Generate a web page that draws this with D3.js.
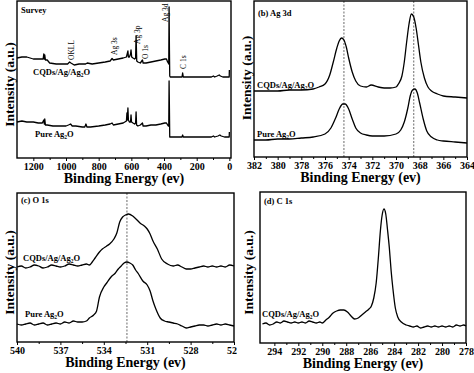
<!DOCTYPE html>
<html><head><meta charset="utf-8">
<script src="https://cdn.jsdelivr.net/npm/d3@7"></script>
<style>
body{margin:0;background:#fff}
svg{display:block}
text{font-family:"Liberation Serif","Times New Roman",serif;fill:#000}
</style>
</head><body>
<svg id="chart" width="474" height="373"></svg>
<script>
// ---------------- DATA (binding energy eV, intensity a.u.) ----------------
const surveyCqds = [[1300,100],[1270,101],[1240,101],[1220,100],[1200,99],[1170,99],[1150,99],[1140,99],[1136,104],[1133,99],[1130,103],[1126,98],[1115,98],[1100,95],[1060,94],[1020,94],[990,94],[978,96],[970,95],[950,93],[920,94],[880,94],[870,95],[840,94],[800,95],[760,96],[730,97],[718,99.5],[710,98],[680,99],[650,100],[630,101],[624,105],[621,107],[618,101],[612,101],[605,104],[602,108],[598,101],[590,100],[580,99],[574,100],[571,122],[567,97],[560,96],[545,95],[532,98],[528,95],[510,95],[480,96],[450,97],[420,98],[395,99],[385,99],[378,96],[374,95],[371,94],[369,151],[367,110],[365,82],[362,81],[340,81],[310,81],[290,81],[286,85],[282,81],[250,81],[200,81],[150,81],[110,81],[98,82],[90,81],[75,82],[62,83],[55,82],[40,81],[20,81],[8,81],[1,81],[0,88]];
const surveyPure = [[1300,36],[1270,37],[1240,36],[1200,36],[1170,35],[1145,35],[1136,38],[1133,34],[1130,39],[1126,33],[1115,33],[1080,32],[1040,32],[1000,32],[985,33],[972,34],[962,32],[940,32],[900,31],[885,31],[878,34],[872,31],[850,31],[800,32],[760,33],[730,34],[718,35],[710,33],[680,34],[650,35],[640,36],[630,37],[627,45],[625,38],[621,50],[618,38],[612,36],[605,36],[602,43],[599,36],[590,35],[580,34],[574,35],[571,46],[568,33],[560,32],[545,33],[532,35],[528,32],[510,32],[480,33],[450,33],[420,34],[395,35],[385,35],[378,33],[374,32],[371,32],[369,77],[367,50],[365,21],[362,21],[320,21],[290,21],[286,23],[282,21],[250,21],[200,21],[150,21],[110,21],[98,22],[90,21],[70,22],[58,23],[50,22],[30,21],[8,21],[1,21],[0,26]];
const surveyPeakLabels = [["OKLL",968,98],["Ag 3s",706,103],["Ag 3p",562,114],["O 1s",516,99],["Ag 3d",392,136],["C 1s",278,89]];

const ag3dCqds = [[382,66],[381,66],[380,66],[379,67],[378,67],[377,68],[376.5,70],[376,73],[375.6,82],[375.3,95],[375.0,109],[374.8,116],[374.6,119],[374.4,117],[374.2,110],[374.0,99],[373.7,85],[373.4,76],[373,71],[372.5,70],[372.1,72],[371.5,70],[371,69],[370.5,69],[370,70],[369.8,73],[369.5,81],[369.3,95],[369.1,115],[368.9,133],[368.7,143],[368.5,140],[368.3,129],[368.1,112],[367.9,95],[367.6,79],[367.3,70],[367,66],[366.5,63],[366,61],[365,60],[364,59]];
const ag3dPure = [[382,17],[381,17],[380,18],[379,18],[378,19],[377,20],[376,23],[375.5,29],[375.1,39],[374.8,48],[374.5,53],[374.3,53],[374.0,48],[373.7,38],[373.4,29],[373,24],[372.5,22],[372,21],[371,21],[370,23],[369.6,27],[369.3,35],[369.0,49],[368.8,61],[368.6,67],[368.4,68],[368.2,64],[368.0,54],[367.7,38],[367.4,26],[367,20],[366.5,17],[366,16],[365,15],[364,14]];
const ag3dRefLines = [374.4, 368.5];

const o1sCqds = [[540,75],[539.7,76],[539.4,74],[539.1,75],[538.8,77],[538.5,76],[538.2,74],[537.9,75],[537.6,77],[537.3,76],[537,75],[536.7,76],[536.4,78],[536.1,77],[535.8,76],[535.5,77],[535.2,78],[535.0,77],[534.8,80],[534.6,84],[534.3,90],[534.1,93],[533.8,96],[533.6,98],[533.3,103],[533.1,109],[532.9,120],[532.7,125],[532.5,127],[532.3,128],[532.0,126],[531.7,122],[531.5,119],[531.2,116],[531.0,113],[530.8,108],[530.6,101],[530.3,93],[530.0,83],[529.6,78],[529.2,76],[528.9,77],[528.6,75],[528.3,73],[528,73],[527.7,74],[527.4,75],[527.1,76],[526.8,75],[526.5,76],[526.2,75],[525.9,76],[525.6,75],[525.3,77],[525,76]];
const o1sPure = [[540,18],[539.7,17],[539.4,18],[539.1,19],[538.8,17],[538.5,18],[538.2,19],[537.9,17],[537.6,18],[537.3,19],[537,18],[536.7,20],[536.4,19],[536.1,21],[535.8,20],[535.5,20],[535.2,21],[535.0,24],[534.7,27],[534.5,31],[534.3,45],[534.0,55],[533.8,59],[533.5,65],[533.2,69],[533.0,73],[532.8,76],[532.6,79],[532.4,80],[532.2,79],[532.0,77],[531.8,72],[531.6,68],[531.3,61],[531.0,57],[530.8,51],[530.6,41],[530.4,33],[530.1,24],[529.8,21],[529.5,20],[529.2,19],[528.9,18],[528.6,16],[528.3,14],[528,15],[527.7,16],[527.4,17],[527.1,17],[526.8,16],[526.5,17],[526.2,18],[525.9,17],[525.6,18],[525.3,17],[525,16]];
const o1sRefLine = [532.4];

const c1sCqds = [[295,19],[294.7,20],[294.4,18],[294.1,19],[293.8,21],[293.5,20],[293.2,22],[292.9,21],[292.6,20],[292.3,21],[292,20],[291.7,21],[291.4,20],[291.1,22],[290.8,21],[290.5,20],[290.2,21],[290,20],[289.7,23],[289.4,26],[289.1,30],[288.8,32],[288.5,33],[288.2,33],[287.9,31],[287.6,27],[287.3,24],[287.0,25],[286.7,28],[286.4,31],[286.1,34],[285.9,37],[285.7,45],[285.5,60],[285.3,88],[285.15,112],[285.0,128],[284.85,134],[284.7,129],[284.55,113],[284.4,95],[284.25,72],[284.1,54],[283.9,35],[283.7,26],[283.4,21],[283,18],[282.7,17],[282.4,16],[282.1,17],[281.8,15],[281.5,16],[281.2,17],[280.9,16],[280.6,17],[280.3,16],[280,17],[279.7,16],[279.4,17],[279.1,16],[278.8,18],[278.5,17],[278.2,18],[278,17]];

const surveyTicks = [1200,1000,800,600,400,200,0];
const ag3dTicks = [382,380,378,376,374,372,370,368,366,364];
const o1sTicks = [540,537,534,531,528,525];
const c1sTicks = [294,292,290,288,286,284,282,280,278];

// ---------------- DRAWING ----------------
const svg = d3.select("#chart");
const FONT_TICK = 10, FONT_TITLE = 14;

function panel(cfg){
  const g = svg.append("g");
  if (cfg.clip){
    const id = "clip" + cfg.name;
    svg.append("clipPath").attr("id", id).append("rect")
      .attr("x", cfg.clip[0]).attr("y", cfg.clip[1]).attr("width", cfg.clip[2]).attr("height", cfg.clip[3]);
    g.attr("clip-path", `url(#${id})`);
  }
  const x = d3.scaleLinear().domain(cfg.xDomain).range([cfg.left, cfg.right]);
  const y = d3.scaleLinear().domain([0, cfg.bottom - cfg.top]).range([cfg.bottom, cfg.top]);

  (cfg.refLines || []).forEach(e => {
    g.append("line").attr("x1", x(e)).attr("x2", x(e)).attr("y1", cfg.top).attr("y2", cfg.bottom)
      .attr("stroke", "#444").attr("stroke-width", 0.8).attr("stroke-dasharray", "2,1.5");
  });

  const line = d3.line().x(d => x(d[0])).y(d => y(d[1])).curve(cfg.curve || d3.curveLinear);
  cfg.series.forEach(s => {
    g.append("path").datum(s).attr("d", line).attr("fill", "none")
      .attr("stroke", "#000").attr("stroke-width", 1.3).attr("stroke-linejoin", "round");
  });

  g.append("rect").attr("x", cfg.left).attr("y", cfg.top)
    .attr("width", cfg.right - cfg.left).attr("height", cfg.bottom - cfg.top)
    .attr("fill", "none").attr("stroke", "#000").attr("stroke-width", 1.4);

  const minor = [];
  for (let i = 0; i < cfg.ticks.length - 1; i++) minor.push((cfg.ticks[i] + cfg.ticks[i+1]) / 2);
  const am = g.append("g").attr("transform", `translate(0,${cfg.bottom})`)
    .call(d3.axisBottom(x).tickValues(minor).tickSize(2).tickFormat(""));
  am.select(".domain").remove();
  am.selectAll("line").attr("stroke-width", 1);

  const ax = g.append("g").attr("transform", `translate(0,${cfg.bottom})`)
    .call(d3.axisBottom(x).tickValues(cfg.ticks).tickSize(3).tickPadding(2).tickFormat(d3.format("d")));
  ax.select(".domain").remove();
  ax.selectAll("line").attr("stroke-width", 1);
  ax.selectAll("text").attr("font-size", FONT_TICK).attr("font-weight", "bold")
    .attr("font-family", '"Liberation Serif", serif').attr("fill", "#000");

  g.append("text").attr("x", (cfg.left + cfg.right) / 2 + (cfg.xtOff || 0)).attr("y", cfg.bottom + 25)
    .attr("text-anchor", "middle").attr("font-size", FONT_TITLE).attr("font-weight", "bold")
    .text("Binding Energy (ev)");
  g.append("text").attr("transform", `translate(${cfg.left - cfg.ytX},${(cfg.top + cfg.bottom) / 2 + (cfg.ytOff || 0)}) rotate(-90)`)
    .attr("text-anchor", "middle").attr("font-size", 13.5).attr("font-weight", "bold")
    .text("Intensity (a.u.)");

  g.append("text").attr("x", cfg.left + 4).attr("y", cfg.top + cfg.titleY)
    .attr("font-size", 8.5).attr("font-weight", "bold").text(cfg.title);

  (cfg.labels || []).forEach(l => {
    const t = g.append("text").attr("x", l[1]).attr("y", l[2])
      .attr("font-size", 8.5).attr("font-weight", "bold");
    t.append("tspan").text(l[0] === "cqd" ? "CQDs/Ag/Ag" : "Pure Ag");
    t.append("tspan").attr("font-size", 5.5).attr("dy", 2).text("2");
    t.append("tspan").attr("dy", -2).text("O");
  });
  return {g, x, y};
}

// (a) survey
const pa = panel({name:"a", left:17, right:231, top:1, bottom:158, xDomain:[1300,-10],
  series:[surveyCqds, surveyPure], ticks:surveyTicks, title:"Survey", ytX:3, ytOff:5, titleY:12,
  labels:[["cqd",33,75],["pure",35,137]]});
surveyPeakLabels.forEach(p => {
  pa.g.append("text").attr("transform", `translate(${pa.x(p[1])},${pa.y(p[2])}) rotate(-90)`)
    .attr("dy", "0.33em").attr("font-size", 7.5).text(p[0]);
});

// (b) Ag 3d
panel({name:"b", left:254, right:467, top:1, bottom:157, xDomain:[382,364],
  series:[ag3dCqds, ag3dPure], ticks:ag3dTicks, title:"(b) Ag 3d", refLines:ag3dRefLines,
  ytX:3, ytOff:-1, titleY:15,
  curve:d3.curveMonotoneX, labels:[["cqd",257,88],["pure",257,137]]});

// (c) O 1s
panel({name:"c", left:17, right:234, top:193, bottom:342, xDomain:[540,525],
  series:[o1sCqds, o1sPure], ticks:o1sTicks, title:"(c) O 1s", refLines:o1sRefLine,
  ytX:3, ytOff:5, titleY:10,
  curve:d3.curveMonotoneX, clip:[0,186,237,187], labels:[["cqd",23,261],["pure",25,317]]});

// (d) C 1s
panel({name:"d", left:260, right:466, top:192, bottom:343, xDomain:[295.2,278],
  series:[c1sCqds], ticks:c1sTicks, title:"(d) C 1s", ytX:7, ytOff:5, titleY:12,
  curve:d3.curveMonotoneX, labels:[["cqd",262,317]]});
</script>
</body></html>
